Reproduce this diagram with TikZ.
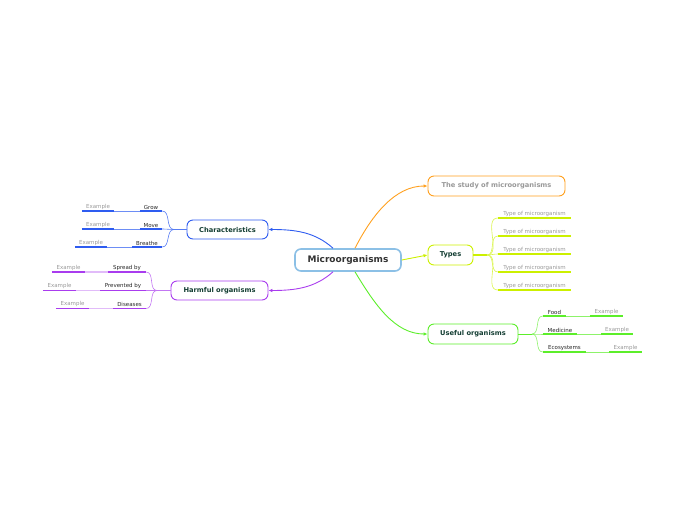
\documentclass[tikz,border=0pt]{standalone}
\usepackage{fontspec}
\setmainfont{DejaVu Sans}
\usetikzlibrary{arrows.meta}
\definecolor{mapsky}{HTML}{8CC0E6}
\definecolor{mapblue}{HTML}{2E5CF0}
\definecolor{mappurple}{HTML}{A93CEE}
\definecolor{maporange}{HTML}{FFA01E}
\definecolor{maplime}{HTML}{CCF000}
\definecolor{mapgreen}{HTML}{5CEE2A}
\definecolor{mapteal}{HTML}{143E33}

\begin{document}
\begin{tikzpicture}[
    x=1pt,
    y=-1pt,
    centralbox/.style={
        draw=mapsky,
        fill=white,
        rounded corners=6pt,
        line width=1.6pt,
        minimum width=106pt,
        minimum height=22pt,
        inner sep=0pt,
        text=black!80,
        font=\bfseries\fontsize{9}{10}\selectfont
    },
    topicbox/.style={
        fill=white,
        rounded corners=6pt,
        line width=0.9pt,
        minimum height=20pt,
        inner sep=0pt,
        text=mapteal,
        font=\bfseries\fontsize{6.7}{8}\selectfont
    },
    subtopic/.style={
        anchor=south,
        inner xsep=0pt,
        inner ysep=1.6pt,
        text=black!85,
        font=\fontsize{5.5}{6.5}\selectfont
    },
    example/.style={
        subtopic,
        text=black!40
    },
    uline/.style={
        line width=1.6pt
    },
    link/.style={
        line width=0.6pt
    },
    branch/.style={
        -{Latex[length=4pt,width=3.5pt]},
        line width=0.9pt
    }
]
\useasboundingbox (0,0) rectangle (697,520);

% -----------------------------------------------------
% Main nodes
% -----------------------------------------------------

\node[centralbox] (micro) at (348,260) {Microorganisms};

\node[topicbox, draw=maporange, minimum width=137pt, text=black!40]
    (study) at (496.5,186) {The study of microorganisms};
\node[topicbox, draw=maplime, minimum width=45pt] (types) at (450.5,255) {Types};
\node[topicbox, draw=mapgreen, minimum width=90pt] (useful) at (473,334) {Useful organisms};
\node[topicbox, draw=mapblue, minimum width=81pt, minimum height=19pt]
    (charac) at (227.5,229.5) {Characteristics};
\node[topicbox, draw=mappurple, minimum width=97pt, minimum height=19pt]
    (harmful) at (219.5,290.5) {Harmful organisms};

% -----------------------------------------------------
% Branches from the centre
% -----------------------------------------------------

\draw[branch, maporange] ([xshift=7pt]micro.north)
    .. controls (372,215) and (395,186) .. (study.west);
\draw[branch, maplime] (micro.east) -- (types.west);
\draw[branch, mapgreen] ([xshift=7pt]micro.south)
    .. controls (375,305) and (395,334) .. (useful.west);
\draw[branch, mapblue] ([xshift=-15pt]micro.north)
    .. controls (315,232) and (295,229.5) .. (charac.east);
\draw[branch, mappurple] ([xshift=-15pt]micro.south)
    .. controls (315,288) and (295,290.5) .. (harmful.east);

% -----------------------------------------------------
% Characteristics
% -----------------------------------------------------

\node[subtopic, minimum width=22pt] (grow) at (151,211) {Grow};
\node[example, minimum width=32pt] (exgrow) at (98,211) {Example};
\node[subtopic, minimum width=22pt] (move) at (151,229) {Move};
\node[example, minimum width=32pt] (exmove) at (98,229) {Example};
\node[subtopic, minimum width=30pt] (breathe) at (147,247) {Breathe};
\node[example, minimum width=32pt] (exbreathe) at (91,247) {Example};

\coordinate (charfork) at (174,229.5);
\draw[link, mapblue!80] (charac.west) -- (charfork);
\draw[link, mapblue!80] (charfork) to[out=180,in=0] (grow.south east);
\draw[link, mapblue!80] (charfork) to[out=180,in=0] (move.south east);
\draw[link, mapblue!80] (charfork) to[out=180,in=0] (breathe.south east);

\draw[uline, mapblue] (grow.south west) -- (grow.south east);
\draw[uline, mapblue] (move.south west) -- (move.south east);
\draw[uline, mapblue] (breathe.south west) -- (breathe.south east);
\draw[uline, mapblue] (exgrow.south west) -- (exgrow.south east);
\draw[uline, mapblue] (exmove.south west) -- (exmove.south east);
\draw[uline, mapblue] (exbreathe.south west) -- (exbreathe.south east);
\draw[link, mapblue!70] (exgrow.south east) -- (grow.south west);
\draw[link, mapblue!70] (exmove.south east) -- (move.south west);
\draw[link, mapblue!70] (exbreathe.south east) -- (breathe.south west);

% -----------------------------------------------------
% Harmful organisms
% -----------------------------------------------------

\node[subtopic, minimum width=38pt] (spread) at (127,272) {Spread by};
\node[example, minimum width=33pt] (exspread) at (68.5,272) {Example};
\node[subtopic, minimum width=46pt] (prevented) at (123,290.5) {Prevented by};
\node[example, minimum width=33pt] (exprevented) at (59.5,290.5) {Example};
\node[subtopic, minimum width=33pt] (diseases) at (129.5,308.5) {Diseases};
\node[example, minimum width=33pt] (exdiseases) at (72.5,308.5) {Example};

\coordinate (harmfork) at (157,290.5);
\draw[link, mappurple!70] (harmful.west) -- (harmfork);
\draw[link, mappurple!70] (harmfork) to[out=180,in=0] (spread.south east);
\draw[link, mappurple!70] (harmfork) to[out=180,in=0] (prevented.south east);
\draw[link, mappurple!70] (harmfork) to[out=180,in=0] (diseases.south east);

\draw[uline, mappurple] (spread.south west) -- (spread.south east);
\draw[uline, mappurple] (prevented.south west) -- (prevented.south east);
\draw[uline, mappurple] (diseases.south west) -- (diseases.south east);
\draw[uline, mappurple] (exspread.south west) -- (exspread.south east);
\draw[uline, mappurple] (exprevented.south west) -- (exprevented.south east);
\draw[uline, mappurple] (exdiseases.south west) -- (exdiseases.south east);
\draw[uline, mappurple!35] (exspread.south east) -- (spread.south west);
\draw[uline, mappurple!35] (exprevented.south east) -- (prevented.south west);
\draw[uline, mappurple!35] (exdiseases.south east) -- (diseases.south west);

% -----------------------------------------------------
% Types
% -----------------------------------------------------

\node[example, minimum width=73pt] (type1) at (534.5,218) {Type of microorganism};
\node[example, minimum width=73pt] (type2) at (534.5,236) {Type of microorganism};
\node[example, minimum width=73pt] (type3) at (534.5,254) {Type of microorganism};
\node[example, minimum width=73pt] (type4) at (534.5,272) {Type of microorganism};
\node[example, minimum width=73pt] (type5) at (534.5,290) {Type of microorganism};

\coordinate (typefork) at (487,255);
\draw[uline, maplime] (types.east) -- (typefork);
\draw[link, maplime!70] (typefork) to[out=0,in=180] (type1.south west);
\draw[link, maplime!70] (typefork) to[out=0,in=180] (type2.south west);
\draw[link, maplime!70] (typefork) to[out=0,in=180] (type3.south west);
\draw[link, maplime!70] (typefork) to[out=0,in=180] (type4.south west);
\draw[link, maplime!70] (typefork) to[out=0,in=180] (type5.south west);

\draw[uline, maplime] (type1.south west) -- (type1.south east);
\draw[uline, maplime] (type2.south west) -- (type2.south east);
\draw[uline, maplime] (type3.south west) -- (type3.south east);
\draw[uline, maplime] (type4.south west) -- (type4.south east);
\draw[uline, maplime] (type5.south west) -- (type5.south east);

% -----------------------------------------------------
% Useful organisms
% -----------------------------------------------------

\node[subtopic, minimum width=23pt] (food) at (554.5,316) {Food};
\node[example, minimum width=33pt] (exfood) at (606.5,316) {Example};
\node[subtopic, minimum width=34pt] (medicine) at (560,334) {Medicine};
\node[example, minimum width=32pt] (exmedicine) at (617,334) {Example};
\node[subtopic, minimum width=43pt] (eco) at (564.5,352) {Ecosystems};
\node[example, minimum width=33pt] (execo) at (625.5,352) {Example};

\coordinate (usefork) at (532,334);
\draw[link, mapgreen] (useful.east) -- (usefork);
\draw[link, mapgreen!70] (usefork) to[out=0,in=180] (food.south west);
\draw[link, mapgreen!70] (usefork) to[out=0,in=180] (medicine.south west);
\draw[link, mapgreen!70] (usefork) to[out=0,in=180] (eco.south west);

\draw[uline, mapgreen] (food.south west) -- (food.south east);
\draw[uline, mapgreen] (medicine.south west) -- (medicine.south east);
\draw[uline, mapgreen] (eco.south west) -- (eco.south east);
\draw[uline, mapgreen] (exfood.south west) -- (exfood.south east);
\draw[uline, mapgreen] (exmedicine.south west) -- (exmedicine.south east);
\draw[uline, mapgreen] (execo.south west) -- (execo.south east);
\draw[link, mapgreen!70] (food.south east) -- (exfood.south west);
\draw[link, mapgreen!70] (medicine.south east) -- (exmedicine.south west);
\draw[link, mapgreen!70] (eco.south east) -- (execo.south west);

\end{tikzpicture}
\end{document}
